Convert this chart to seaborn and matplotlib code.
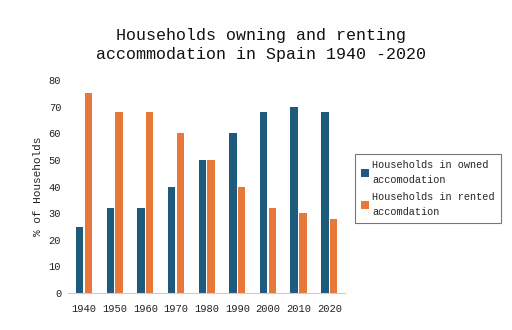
import matplotlib
matplotlib.use("Agg")
import matplotlib.pyplot as plt
import seaborn as sns
import pandas as pd

years = ["1940", "1950", "1960", "1970", "1980", "1990", "2000", "2010", "2020"]
owned = [25, 32, 32, 40, 50, 60, 68, 70, 68]
rented = [75, 68, 68, 60, 50, 40, 32, 30, 28]
series_names = ["Households in owned\naccomodation", "Households in rented\naccomdation"]
colors = ["#1c5b7b", "#e8773a"]

df = pd.DataFrame({
    "year": years * 2,
    "value": owned + rented,
    "series": [series_names[0]] * len(years) + [series_names[1]] * len(years),
})

sns.set_theme(style="white")
plt.rcParams["font.family"] = ["Liberation Mono", "DejaVu Sans Mono"]

fig = plt.figure(figsize=(5.12, 3.3), dpi=100)
ax = fig.add_axes([0.133, 0.112, 0.54, 0.645])
sns.barplot(data=df, x="year", y="value", hue="series", palette=colors,
            width=0.57, gap=0.14, ax=ax, saturation=1, linewidth=0)

ax.set_ylim(0, 80)
ax.set_yticks(range(0, 81, 10))
ax.set_xlim(-0.52, 8.5)
ax.set_xlabel("")
ax.set_ylabel("% of Households", fontsize=8, color="#222222")
ax.tick_params(axis="both", labelsize=7.5, colors="#222222", length=0)
ax.tick_params(axis="x", pad=8)
ax.tick_params(axis="y", pad=5)
for s in ["top", "right", "left"]:
    ax.spines[s].set_visible(False)
ax.spines["bottom"].set_color("#cccccc")
ax.spines["bottom"].set_linewidth(0.8)

fig.suptitle("Households owning and renting\naccommodation in Spain 1940 -2020",
             fontsize=12, x=0.51, y=0.915, color="#111111", linespacing=1.3)

leg = ax.legend(loc="center left", bbox_to_anchor=(1.02, 0.49), fontsize=7.4,
                frameon=True, fancybox=False, edgecolor="#555555",
                handlelength=0.75, handleheight=0.75, handletextpad=0.3,
                borderpad=0.6, labelspacing=0.65)
leg.get_frame().set_linewidth(0.8)
for t in leg.get_texts():
    t.set_linespacing(1.65)

fig.savefig("out.png", dpi=100)
